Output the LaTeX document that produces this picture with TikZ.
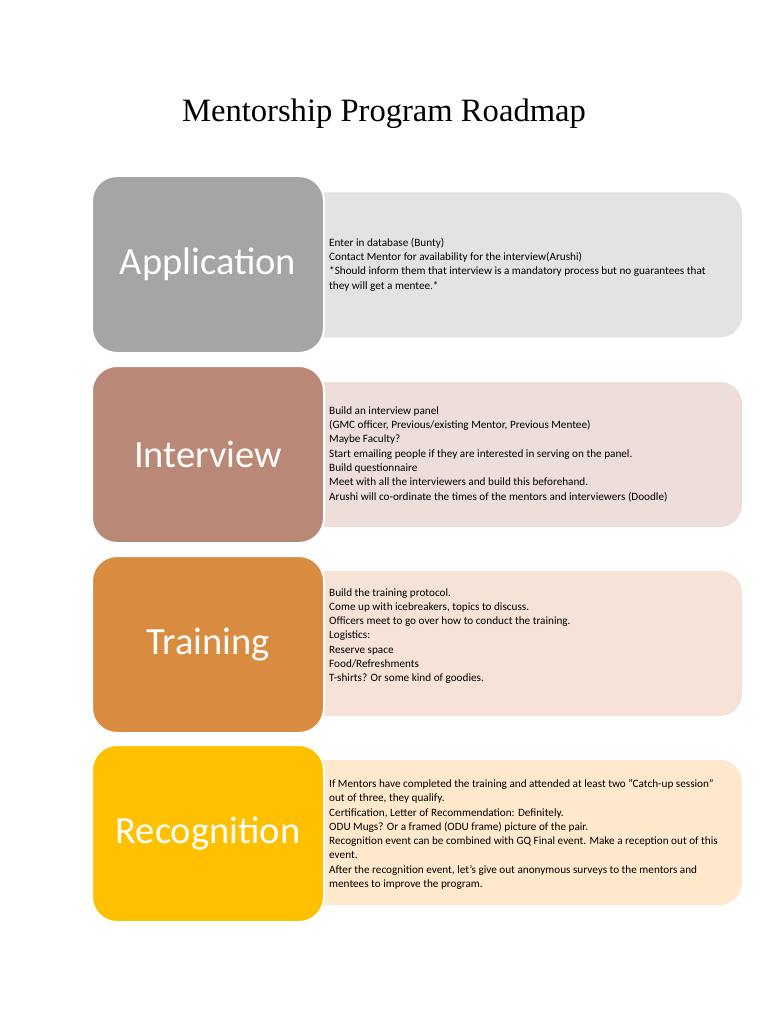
\documentclass[tikz,border=0pt]{standalone}
\usepackage{fontspec}
\setmainfont{Carlito}
\newfontfamily\titlefont{Liberation Serif}
\definecolor{appL}{HTML}{A5A5A5}
\definecolor{appR}{HTML}{E3E3E3}
\definecolor{intL}{HTML}{BA8876}
\definecolor{intR}{HTML}{EDDEDA}
\definecolor{traL}{HTML}{D98B3F}
\definecolor{traR}{HTML}{F6E2D6}
\definecolor{recL}{HTML}{FFC000}
\definecolor{recR}{HTML}{FFE8CC}
\tikzset{
  stagebox/.style={draw=white, line width=2pt, rounded corners=25pt, minimum width=232pt, minimum height=177pt, inner sep=0pt, text=white, font=\fontsize{38.5}{42}\selectfont},
  notebox/.style={rounded corners=22pt, minimum width=442pt, minimum height=145pt, inner sep=0pt},
  notetext/.style={anchor=west, inner sep=0pt, align=left, font=\fontsize{11.2}{14.3}\selectfont, text=black}
}
\begin{document}
\begin{tikzpicture}[x=1pt,y=-1pt]
\useasboundingbox (0,0) rectangle (768,1024);
\fill[white] (0,0) rectangle (768,1024);
\node[font=\titlefont\fontsize{32.6}{36}\selectfont] (title) at (384,114) {Mentorship Program Roadmap};

% right note boxes
\node[notebox, fill=appR] (appN) at (521,265) {};
\node[notebox, fill=intR] (intN) at (521,454.5) {};
\node[notebox, fill=traR] (traN) at (521,643.5) {};
\node[notebox, fill=recR] (recN) at (521,832.5) {};

% left stage boxes
\node[stagebox, fill=appL] (app) at (208,264.5) {\raisebox{-2pt}{Application}};
\node[stagebox, fill=intL] (int) at (208,454.5) {\raisebox{-2pt}{Interview}};
\node[stagebox, fill=traL] (tra) at (208,644.5) {\raisebox{-2pt}{Training}};
\node[stagebox, fill=recL] (rec) at (208,833.5) {\raisebox{-2pt}{Recognition}};

% texts
\node[notetext] (appT) at (329,264.5) {Enter in database (Bunty)\\
Contact Mentor for availability for the interview(Arushi)\\
*Should inform them that interview is a mandatory process but no guarantees that\\
they will get a mentee.*};
\node[notetext] (intT) at (329,454) {Build an interview panel\\
(GMC officer, Previous/existing Mentor, Previous Mentee)\\
Maybe Faculty?\\
Start emailing people if they are interested in serving on the panel.\\
Build questionnaire\\
Meet with all the interviewers and build this beforehand.\\
Arushi will co-ordinate the times of the mentors and interviewers (Doodle)};
\node[notetext] (traT) at (329,636) {Build the training protocol.\\
Come up with icebreakers, topics to discuss.\\
Officers meet to go over how to conduct the training.\\
Logistics:\\
Reserve space\\
Food/Refreshments\\
T-shirts? Or some kind of goodies.};
\node[notetext] (recT) at (329,834.5) {If Mentors have completed the training and attended at least two {\char"0022}Catch-up session{\char"0022}\\
out of three, they qualify.\\
Certification, Letter of Recommendation: Definitely.\\
ODU Mugs? Or a framed (ODU frame) picture of the pair.\\
Recognition event can be combined with GQ Final event. Make a reception out of this\\
event.\\
After the recognition event, let{\char"0027}s give out anonymous surveys to the mentors and\\
mentees to improve the program.};
\end{tikzpicture}
\end{document}
